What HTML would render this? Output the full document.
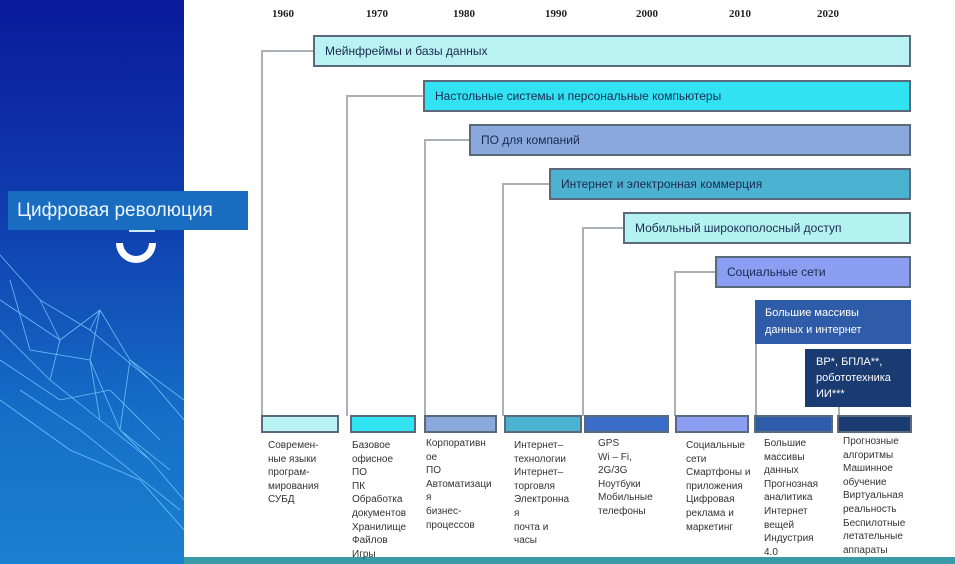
<!DOCTYPE html>
<html><head><meta charset="utf-8"><style>
*{margin:0;padding:0;box-sizing:border-box}
body{width:955px;height:564px;overflow:hidden;position:relative;background:#fff;font-family:"Liberation Sans","Noto Sans CJK SC",sans-serif}
#left{position:absolute;left:0;top:0;width:184px;height:564px;background:linear-gradient(180deg,#0a1a9a 0%,#1040b0 40%,#1570c8 75%,#1a80d0 100%)}
.a{position:absolute}
.bar{position:absolute;height:32px;border:2px solid #5a6a7a;font-size:12px;color:#1a2a50;padding-left:10px;line-height:28px}
.bb{position:absolute;top:415px;height:18px;border:2px solid #5a6a7a}
.v{position:absolute;width:2px;background:#a8b0b8}
.h{position:absolute;height:2px;background:#a8b0b8}
.yr{position:absolute;top:8px;font-family:"Liberation Serif",serif;font-weight:bold;font-size:11px;color:#222}
.t{position:absolute;top:437px;font-size:10px;line-height:13.6px;color:#333}
</style></head><body>
<div id="left">
<svg width="184" height="564" style="position:absolute;left:0;top:0" stroke="#7ad0ff" stroke-width="0.8" fill="none" opacity="0.85">
<path d="M0 255 L40 300 L90 330 L150 380 L184 420 M0 300 L60 340 L100 310 L130 360 L184 400 M0 330 L50 380 L100 420 L150 460 L184 500 M10 280 L30 350 L90 360 L120 430 L170 470 M0 360 L60 400 L110 390 L160 440 M40 300 L60 340 L50 380 M90 330 L100 310 L90 360 L100 420 M150 380 L130 360 L120 430 L150 460 M0 400 L70 450 L140 480 L184 530 M20 390 L80 430 L130 470 L180 510"/>
</svg>
</div>
<div class="a" style="left:8px;top:191px;width:240px;height:39px;background:#1a6cc0;color:#eaf6ff;font-size:19px;line-height:39px;padding-left:9px">Цифровая революция</div>
<div class="a" style="left:116px;top:243px;width:40px;height:20px;border:7px solid #fff;border-top:none;border-radius:0 0 20px 20px"></div>
<div class="a" style="left:129px;top:230px;width:26px;height:2px;background:#cfe8ff"></div>
<div class="a" style="left:184px;top:557px;width:771px;height:7px;background:#3a9aa8"></div>

<div class="yr" style="left:272px">1960</div>
<div class="yr" style="left:366px">1970</div>
<div class="yr" style="left:453px">1980</div>
<div class="yr" style="left:545px">1990</div>
<div class="yr" style="left:636px">2000</div>
<div class="yr" style="left:729px">2010</div>
<div class="yr" style="left:817px">2020</div>

<div class="v" style="left:261px;top:50px;height:366px"></div><div class="h" style="left:261px;top:50px;width:52px"></div>
<div class="v" style="left:346px;top:95px;height:321px"></div><div class="h" style="left:346px;top:95px;width:77px"></div>
<div class="v" style="left:424px;top:139px;height:277px"></div><div class="h" style="left:424px;top:139px;width:45px"></div>
<div class="v" style="left:502px;top:183px;height:233px"></div><div class="h" style="left:502px;top:183px;width:47px"></div>
<div class="v" style="left:582px;top:227px;height:189px"></div><div class="h" style="left:582px;top:227px;width:41px"></div>
<div class="v" style="left:674px;top:271px;height:145px"></div><div class="h" style="left:674px;top:271px;width:41px"></div>
<div class="v" style="left:755px;top:343px;height:73px"></div>
<div class="v" style="left:838px;top:405px;height:11px"></div>

<div class="bar" style="left:313px;top:35px;width:598px;background:#b8f2f2">Мейнфреймы и базы данных</div>
<div class="bar" style="left:423px;top:80px;width:488px;background:#30e2f2">Настольные системы и персональные компьютеры</div>
<div class="bar" style="left:469px;top:124px;width:442px;background:#8aa8dc">ПО для компаний</div>
<div class="bar" style="left:549px;top:168px;width:362px;background:#4cb2d2">Интернет и электронная коммерция</div>
<div class="bar" style="left:623px;top:212px;width:288px;background:#b4f2f2">Мобильный широкополосный доступ</div>
<div class="bar" style="left:715px;top:256px;width:196px;background:#8c9ef2">Социальные сети</div>
<div class="a" style="left:755px;top:300px;width:156px;height:44px;background:#2e5ca8;color:#fff;font-size:11px;line-height:17px;padding:5px 0 0 10px">Большие массивы<br>данных и интернет</div>
<div class="a" style="left:805px;top:349px;width:106px;height:58px;background:#1a3a72;color:#fff;font-size:11px;line-height:16px;padding:5px 0 0 11px">ВР*, БПЛА**,<br>робототехника<br>ИИ***</div>

<div class="bb" style="left:261px;width:78px;background:#b8f2f2"></div>
<div class="bb" style="left:350px;width:66px;background:#30e2f2"></div>
<div class="bb" style="left:424px;width:73px;background:#8aa8dc"></div>
<div class="bb" style="left:504px;width:78px;background:#4cb2d2"></div>
<div class="bb" style="left:584px;width:85px;background:#3a6cc8"></div>
<div class="bb" style="left:675px;width:74px;background:#8c9ef2"></div>
<div class="bb" style="left:754px;width:79px;background:#2e5ca8"></div>
<div class="bb" style="left:837px;width:75px;background:#1a3a72"></div>

<div class="t" style="left:268px;top:439px">Современ-<br>ные языки<br>програм-<br>мирования<br>СУБД</div>
<div class="t" style="left:352px;top:439px">Базовое<br>офисное<br>ПО<br>ПК<br>Обработка<br>документов<br>Хранилище<br>Файлов<br>Игры</div>
<div class="t" style="left:426px;top:437px">Корпоративн<br>ое<br>ПО<br>Автоматизаци<br>я<br>бизнес-<br>процессов</div>
<div class="t" style="left:514px;top:439px">Интернет–<br>технологии<br>Интернет–<br>торговля<br>Электронна<br>я<br>почта и<br>часы</div>
<div class="t" style="left:598px;top:437px">GPS<br>Wi – Fi,<br>2G/3G<br>Ноутбуки<br>Мобильные<br>телефоны</div>
<div class="t" style="left:686px;top:439px">Социальные<br>сети<br>Смартфоны и<br>приложения<br>Цифровая<br>реклама и<br>маркетинг</div>
<div class="t" style="left:764px;top:437px">Большие<br>массивы<br>данных<br>Прогнозная<br>аналитика<br>Интернет<br>вещей<br>Индустрия<br>4.0</div>
<div class="t" style="left:843px;top:435px">Прогнозные<br>алгоритмы<br>Машинное<br>обучение<br>Виртуальная<br>реальность<br>Беспилотные<br>летательные<br>аппараты</div>
</body></html>
